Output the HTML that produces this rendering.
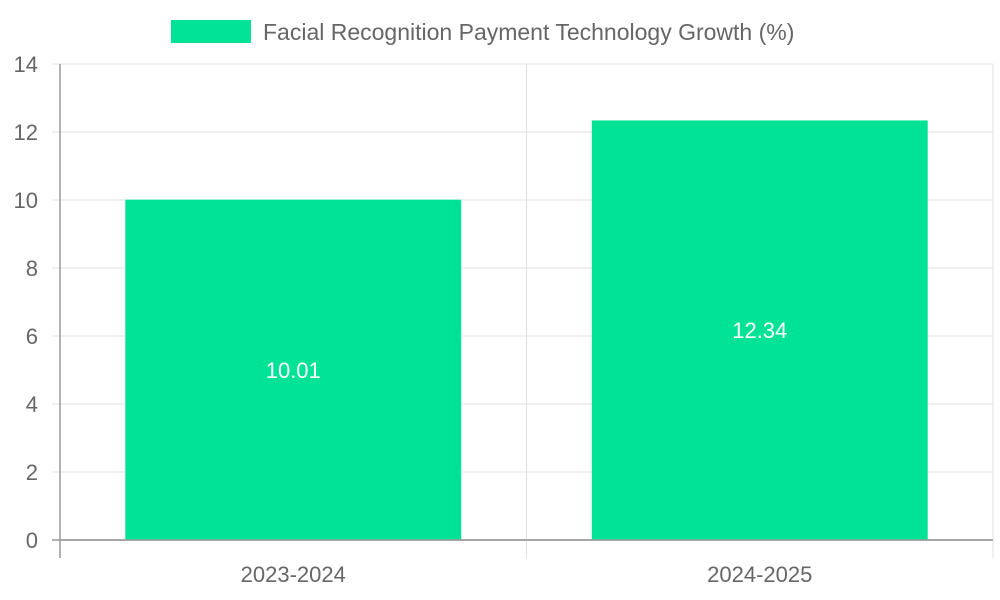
<!DOCTYPE html>
<html><head><meta charset="utf-8"><style>
body{margin:0;background:#fff;}
svg{display:block;font-family:"Liberation Sans",sans-serif;}
</style></head><body>
<svg id="chart" width="1000" height="600">
<g>
<rect x="171" y="20" width="80" height="23" fill="#00e296"/>
<text x="263" y="40" font-size="23" fill="#666">Facial Recognition Payment Technology Growth (%)</text>
</g>
<g id="grid"></g>
<g id="bars"></g>
<g id="axes"></g>
</svg>
<script>
const categories=["2023-2024","2024-2025"];
const values=[10.01,12.34];
const yTicks=[0,2,4,6,8,10,12,14];
const NS="http://www.w3.org/2000/svg";
const L=60,R=993,T=64,B=540,yMax=14;
const y=v=>B-(v/yMax)*(B-T);
const bw=(R-L)/categories.length;
const x=i=>L+bw*i;
function mk(tag,attrs,parent,text){const e=document.createElementNS(NS,tag);for(const k in attrs)e.setAttribute(k,attrs[k]);if(text!==undefined)e.textContent=text;parent.appendChild(e);return e;}
const grid=document.getElementById('grid'),bars=document.getElementById('bars'),axes=document.getElementById('axes');
yTicks.forEach(t=>{
 const ln=mk('line',{x1:52,x2:R,y1:y(t),y2:y(t),stroke:t===0?'#999':'#e0e0e0','stroke-width':t===0?1.5:1},grid);
 
 
 const tx=mk('text',{x:38,y:y(t)+8,'font-size':22,fill:'#666','text-anchor':'end'},axes,String(t));
 
 
});
for(let i=0;i<=categories.length;i++){
 const ln=mk('line',{x1:x(i),x2:x(i),y1:T,y2:558,stroke:i===0?'#999':'#e0e0e0','stroke-width':i===0?1.5:1},grid);
 
 
}
categories.forEach((c,i)=>{
 const w=bw*0.72,cx=x(i)+bw/2;
 const r=mk('rect',{x:cx-w/2,y:y(values[i]),width:w,height:B-y(values[i]),fill:'#00e296'},bars);
 
 
 const vl=mk('text',{x:cx,y:(y(values[i])+B)/2+8,'font-size':22,fill:'#fff','text-anchor':'middle'},bars,values[i].toFixed(2));
 
 
 const cl=mk('text',{x:cx,y:582,'font-size':22,fill:'#666','text-anchor':'middle'},axes,c);
 
 
});
mk('line',{x1:L,x2:R,y1:B,y2:B,stroke:'#999','stroke-width':1.5},axes);
</script>
</body></html>
